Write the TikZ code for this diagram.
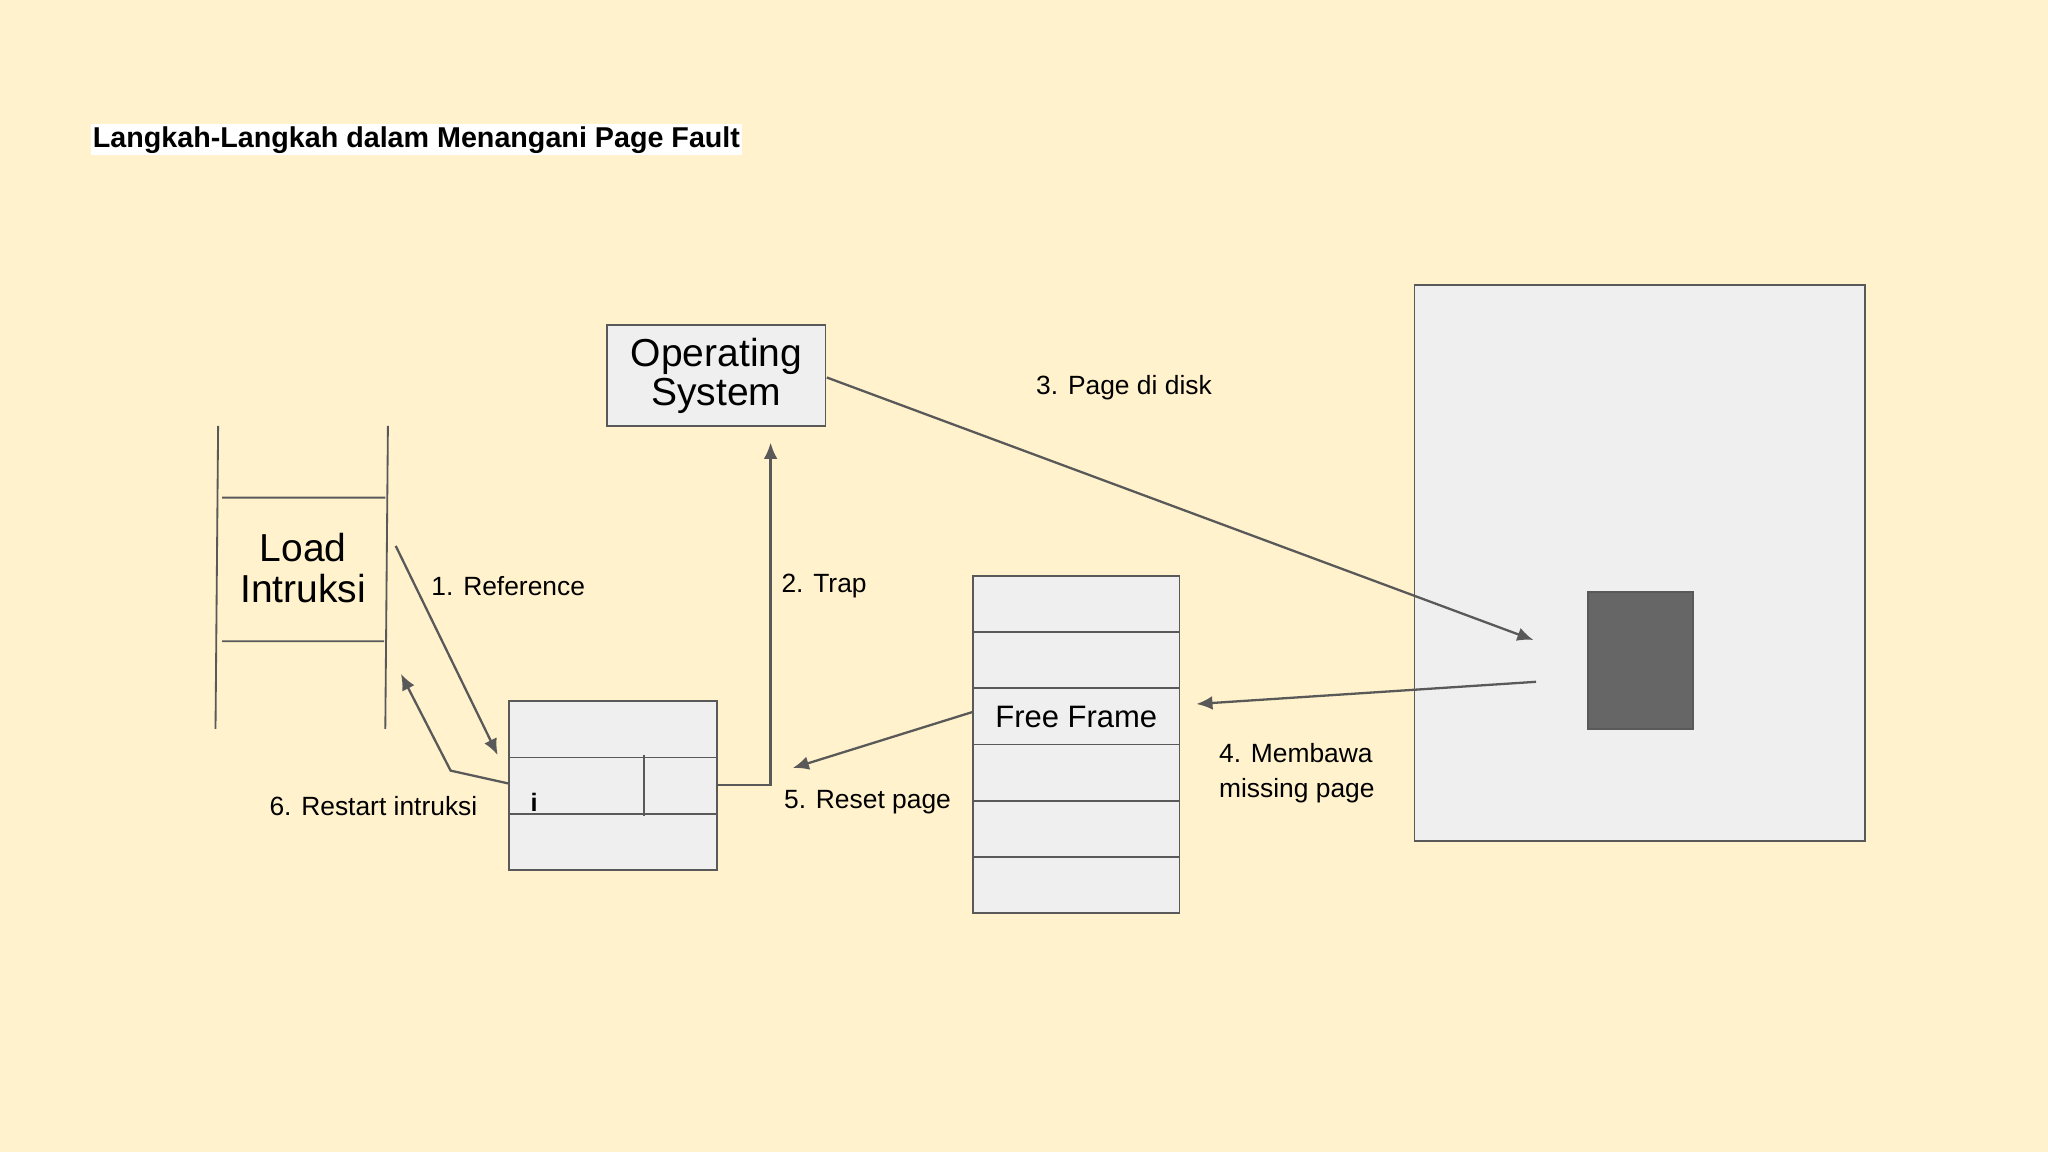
\documentclass[tikz,border=0pt]{standalone}
\usepackage{fontspec}
\setmainfont{Liberation Sans}
\usetikzlibrary{arrows.meta}
\definecolor{bg}{HTML}{FFF2CC}
\definecolor{boxf}{HTML}{EFEFEF}
\definecolor{ln}{HTML}{595959}
\begin{document}
\begin{tikzpicture}[x=0.02cm,y=-0.02cm,
  box/.style={draw=ln,fill=boxf,line width=0.8pt},
  lbl/.style={anchor=west,font=\fontsize{11.5}{14}\selectfont,inner sep=0pt},
  big/.style={font=\fontsize{17}{20}\selectfont,align=center},
  arr/.style={draw=ln,line width=1pt,-{Latex[length=7pt,width=6pt]}}]
\fill[bg] (0,0) rectangle (1568,882);
\useasboundingbox (0,0) rectangle (1568,882);
\node[anchor=west,fill=white,inner sep=1pt,font=\bfseries\fontsize{12.5}{15}\selectfont] (title) at (69,107) {Langkah-Langkah dalam Menangani Page Fault};
% OS
\draw[box] (465,249) rectangle (632,326);
\node[big,text height=,align=center] (os) at (548.5,288) {Operating\\[-3pt]System};
% load
\draw[ln,line width=0.8pt] (167,326)--(165,558) (297,326)--(295,558) (170,381)--(295,381) (170,491)--(294,491);
\node[big] (load) at (232,435) {Load\\[-2pt]Intruksi};
% page table
\draw[box] (390,537) rectangle (549,666);
\draw[ln,line width=0.8pt] (390,580)--(549,580) (390,623)--(549,623) (493,578)--(493,625);
\node[font=\bfseries\fontsize{11}{13}\selectfont] (i) at (409,614) {i};
% free frame
\draw[box] (745,441) rectangle (903,699);
\foreach \y in {484,527,570,613,656} \draw[ln,line width=0.8pt] (745,\y)--(903,\y);
\node[font=\fontsize{13.5}{16}\selectfont] (ff) at (824,549) {Free Frame};
% disk
\draw[box] (1083,218) rectangle (1428,644);
\draw[ln,fill=ln!95!white,line width=0.8pt,fill={rgb,255:red,102;green,102;blue,102}] (1216,453) rectangle (1296,558);
% arrows
\coordinate (a1s) at (303,418); \coordinate (a1e) at (381,578);
\draw[arr] (a1s)--(a1e);
\node[lbl] (l1) at (330,449) {1. Reference};
\coordinate (a2s) at (549,601); \coordinate (a2e) at (590,339);
\draw[arr] (a2s)--(590,601)--(a2e);
\node[lbl] (l2) at (598,449) {2. Trap};
\coordinate (a3s) at (633,289); \coordinate (a3e) at (1174,490);
\draw[arr] (a3s)--(a3e);
\node[lbl] (l3) at (793,297) {3. Page di disk};
\coordinate (a4s) at (1176,522); \coordinate (a4e) at (916,539);
\draw[arr] (a4s)--(a4e);
\node[lbl,align=left] (l4) at (933,592) {4. Membawa\\[1pt]missing page};
\coordinate (a5s) at (745,545); \coordinate (a5e) at (607,588);
\draw[arr] (a5s)--(a5e);
\node[lbl] (l5) at (600,614) {5. Reset page};
\coordinate (a6s) at (390,600); \coordinate (a6e) at (307,516);
\draw[arr] (a6s)--(345,590)--(a6e);
\node[lbl] (l6) at (206,617) {6. Restart intruksi};
\end{tikzpicture}
\end{document}
